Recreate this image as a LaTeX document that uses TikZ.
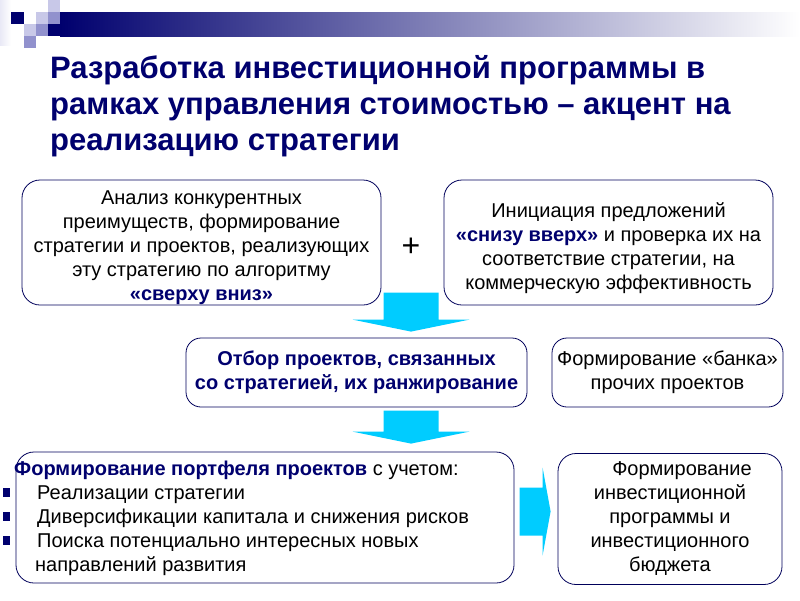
\documentclass[tikz,border=0pt]{standalone}
\usepackage{fontspec}
\setmainfont{Liberation Sans}
\usetikzlibrary{calc, positioning}
\definecolor{navy}{RGB}{0,0,110}
\definecolor{framenavy}{RGB}{0,0,90}
\definecolor{lilac}{RGB}{200,200,232}
\definecolor{midlilac}{RGB}{145,145,205}
\definecolor{arrowcyan}{RGB}{0,204,255}
\tikzset{
  panel/.style={draw=framenavy, line width=0.8pt, rounded corners=18pt},
  bodytext/.style={font=\fontsize{20}{24}\selectfont},
  hitext/.style={text=navy, font=\fontsize{20}{24}\selectfont\bfseries},
  cyanarrow/.style={fill=arrowcyan}
}
\begin{document}
\begin{tikzpicture}[x=1pt, y=-1pt]
\useasboundingbox (0,0) rectangle (800,600);
% header strip
\shade [left color=lilac!40, right color=white] (0,0) rectangle (11,45);
\fill [navy]  (11,12) rectangle (24,24);
\fill [lilac]  (36,12) rectangle (48,24);
\fill [lilac]  (48,0) rectangle (60,12);
\fill [midlilac]  (48,12) rectangle (60,24);
\fill [lilac]  (24,24) rectangle (36,36);
\fill [midlilac]  (36,24) rectangle (48,36);
\fill [midlilac]  (24,36) rectangle (36,48);
\fill [navy]  (48,24) rectangle (60,36);
\shade [left color=navy, right color=white] (60,12) rectangle (800,36);
% title
\node (title) at (50,106) [anchor=west, align=left, inner sep=0pt, text=navy, font=\fontsize{31}{36}\selectfont\bfseries] {Разработка инвестиционной программы в\\рамках управления стоимостью -- акцент на\\реализацию стратегии};
% top row
\draw [panel]  (22,180) rectangle (381,305);
\node (topdown) at (201.5,248) [bodytext, align=center] {Анализ конкурентных\\преимуществ, формирование\\стратегии и проектов, реализующих\\эту стратегию по алгоритму\\{\color{navy}\bfseries «сверху вниз»}};
\draw [panel]  (444,180) rectangle (773,305);
\node (bottomup) at (608.5,248) [bodytext, align=center] {Инициация предложений\\{\color{navy}\bfseries «снизу вверх»} и проверка их на\\соответствие стратегии, на\\коммерческую эффективность};
\node (plus) at (411,247) [font=\fontsize{32}{32}\selectfont] {+};
% middle row
\node (select) at (356.5,372.5) [panel, hitext, rounded corners=15pt, minimum width=341pt, minimum height=69pt, align=center] {Отбор проектов, связанных\\со стратегией, их ранжирование};
\node (bank) at (667.5,372.5) [panel, bodytext, rounded corners=15pt, minimum width=231pt, minimum height=69pt, align=center] {Формирование «банка»\\прочих проектов};
% bottom row
\node (portfolio) at (265,517.5) [panel, minimum width=498pt, minimum height=131pt] {};
\node (portext) at (14,518) [anchor=west, bodytext, align=left, inner sep=0pt] {{\color{navy}\bfseries Формирование портфеля проектов} с учетом:\\
\hspace*{23pt}Реализации стратегии\\
\hspace*{23pt}Диверсификации капитала и снижения рисков\\
\hspace*{23pt}Поиска потенциально интересных новых\\
\hspace*{21pt}направлений развития};
\fill [navy]  (3,488) rectangle (10,497);
\fill [navy]  (3,512) rectangle (10,521);
\fill [navy]  (3,536) rectangle (10,545);
\node (budget) at (670,519) [panel, bodytext, minimum width=224pt, minimum height=131pt, align=center] {\hspace*{24pt}Формирование\\инвестиционной\\программы и\\инвестиционного\\бюджета};
% block arrows
\coordinate (a1) at ($(plus.center |- select.north)+(0,-6)$);
\fill [cyanarrow] (a1) -- ++(58.5,-12) -- ++(-31,0) -- ++(0,-27) -- ++(-55,0) -- ++(0,27) -- ++(-31,0) -- cycle;
\coordinate (a2) at ($(plus.center |- portfolio.north)+(0,-8)$);
\fill [cyanarrow] (a2) -- ++(58.5,-12) -- ++(-31,0) -- ++(0,-21) -- ++(-55,0) -- ++(0,21) -- ++(-31,0) -- cycle;
\coordinate (a3) at ($(budget.west |- portfolio.east)+(-7,-6)$);
\fill [cyanarrow] (a3) -- ++(-8,-44) -- ++(0,20) -- ++(-23,0) -- ++(0,48) -- ++(23,0) -- ++(0,20) -- cycle;
\end{tikzpicture}
\end{document}
